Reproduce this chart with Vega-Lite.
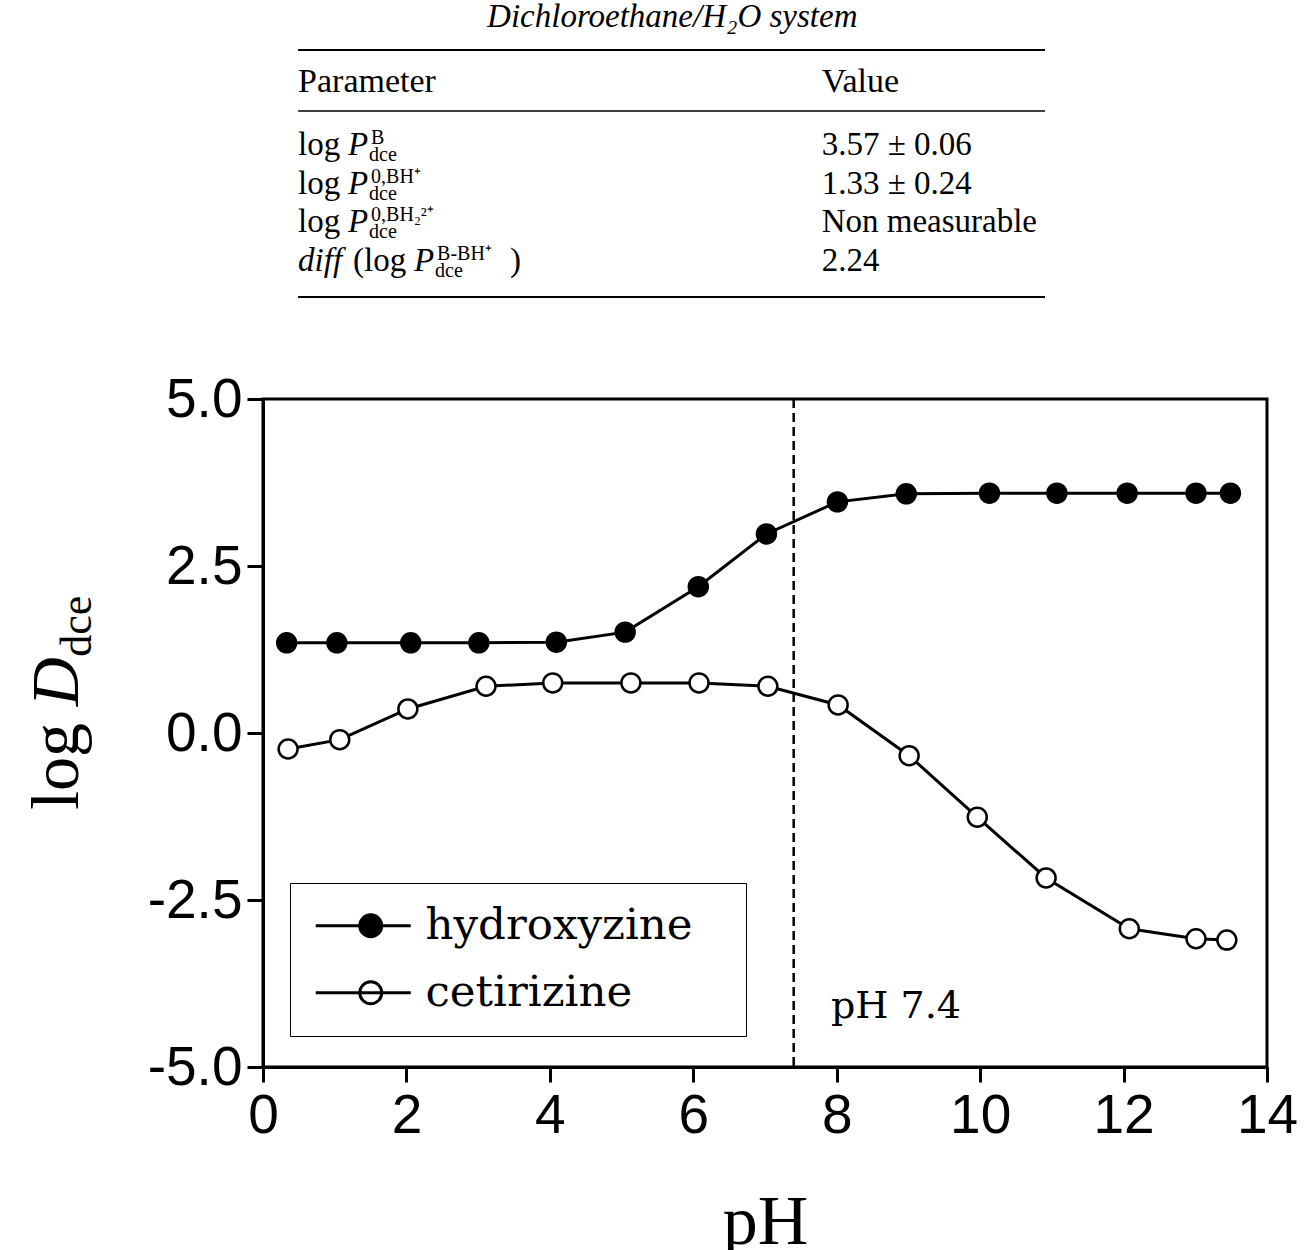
{
  "$schema": "https://vega.github.io/schema/vega-lite/v6.json",
  "background": "white",
  "padding": {"left": 22, "top": 0, "right": 5, "bottom": 0},
  "spacing": 70,
  "config": {"view": {"stroke": null}},
  "datasets": {
    "table": [
      {"row": 1, "lead": "log", "sym": "P", "sup": "B", "sub": "dce", "value": "3.57 ± 0.06"},
      {"row": 2, "lead": "log", "sym": "P", "sup": "0,BH⁺", "sub": "dce", "value": "1.33 ± 0.24"},
      {"row": 3, "lead": "log", "sym": "P", "sup": "0,BH₂²⁺", "sub": "dce", "value": "Non measurable"},
      {"row": 4, "lead": "diff", "lead2": "(log", "sym": "P", "sup": "B-BH⁺", "sub": "dce", "close": ")", "value": "2.24"}
    ],
    "series": [
      {"compound": "hydroxyzine", "pH": 0.33, "logD": 1.35},
      {"compound": "hydroxyzine", "pH": 1.03, "logD": 1.35},
      {"compound": "hydroxyzine", "pH": 2.06, "logD": 1.35},
      {"compound": "hydroxyzine", "pH": 3.01, "logD": 1.35},
      {"compound": "hydroxyzine", "pH": 4.09, "logD": 1.36},
      {"compound": "hydroxyzine", "pH": 5.05, "logD": 1.51},
      {"compound": "hydroxyzine", "pH": 6.07, "logD": 2.19},
      {"compound": "hydroxyzine", "pH": 7.02, "logD": 2.98},
      {"compound": "hydroxyzine", "pH": 8.01, "logD": 3.46},
      {"compound": "hydroxyzine", "pH": 8.97, "logD": 3.58},
      {"compound": "hydroxyzine", "pH": 10.13, "logD": 3.59},
      {"compound": "hydroxyzine", "pH": 11.07, "logD": 3.59},
      {"compound": "hydroxyzine", "pH": 12.05, "logD": 3.59},
      {"compound": "hydroxyzine", "pH": 13.01, "logD": 3.59},
      {"compound": "hydroxyzine", "pH": 13.49, "logD": 3.59},
      {"compound": "cetirizine", "pH": 0.35, "logD": -0.24},
      {"compound": "cetirizine", "pH": 1.07, "logD": -0.1},
      {"compound": "cetirizine", "pH": 2.02, "logD": 0.36},
      {"compound": "cetirizine", "pH": 3.11, "logD": 0.7},
      {"compound": "cetirizine", "pH": 4.04, "logD": 0.75},
      {"compound": "cetirizine", "pH": 5.13, "logD": 0.75},
      {"compound": "cetirizine", "pH": 6.08, "logD": 0.75},
      {"compound": "cetirizine", "pH": 7.04, "logD": 0.7},
      {"compound": "cetirizine", "pH": 8.02, "logD": 0.42},
      {"compound": "cetirizine", "pH": 9.01, "logD": -0.34},
      {"compound": "cetirizine", "pH": 9.96, "logD": -1.26},
      {"compound": "cetirizine", "pH": 10.92, "logD": -2.17},
      {"compound": "cetirizine", "pH": 12.08, "logD": -2.93},
      {"compound": "cetirizine", "pH": 13.01, "logD": -3.08},
      {"compound": "cetirizine", "pH": 13.44, "logD": -3.1}
    ]
  },
  "vconcat": [
    {
      "width": 782,
      "height": 300,
      "view": {"stroke": null},
      "layer": [
        {
          "data": {"values": [{"t": "Dichloroethane/H₂O system"}]},
          "mark": {"type": "text", "font": "Liberation Serif", "fontStyle": "italic", "fontSize": 33, "align": "center", "baseline": "alphabetic", "color": "black"},
          "encoding": {
            "x": {"datum": 0.501, "type": "quantitative", "scale": {"domain": [-0.047, 1]}, "axis": null},
            "y": {"datum": -2.31, "type": "quantitative", "scale": {"domain": [-3, 4.75], "reverse": true}, "axis": null},
            "text": {"field": "t"}
          }
        },
        {
          "data": {"values": [{"r": "top"}]},
          "mark": {"type": "rule", "strokeWidth": 2, "color": "black"},
          "encoding": {
            "x": {"datum": 0, "type": "quantitative", "scale": {"domain": [-0.047, 1]}, "axis": null},
            "x2": {"datum": 1},
            "y": {"datum": -1.71, "type": "quantitative", "scale": {"domain": [-3, 4.75], "reverse": true}, "axis": null}
          }
        },
        {
          "data": {"values": [{"r": "mid"}]},
          "mark": {"type": "rule", "strokeWidth": 1.5, "color": "black"},
          "encoding": {
            "x": {"datum": 0, "type": "quantitative", "scale": {"domain": [-0.047, 1]}, "axis": null},
            "x2": {"datum": 1},
            "y": {"datum": -0.13, "type": "quantitative", "scale": {"domain": [-3, 4.75], "reverse": true}, "axis": null}
          }
        },
        {
          "data": {"values": [{"r": "bottom"}]},
          "mark": {"type": "rule", "strokeWidth": 2, "color": "black"},
          "encoding": {
            "x": {"datum": 0, "type": "quantitative", "scale": {"domain": [-0.047, 1]}, "axis": null},
            "x2": {"datum": 1},
            "y": {"datum": 4.67, "type": "quantitative", "scale": {"domain": [-3, 4.75], "reverse": true}, "axis": null}
          }
        },
        {
          "data": {"values": [{"h": "Parameter"}]},
          "mark": {"type": "text", "font": "Liberation Serif", "fontSize": 34, "align": "left", "baseline": "alphabetic", "color": "black"},
          "encoding": {
            "x": {"datum": 0, "type": "quantitative", "scale": {"domain": [-0.047, 1]}, "axis": null},
            "y": {"datum": -0.63, "type": "quantitative", "scale": {"domain": [-3, 4.75], "reverse": true}, "axis": null},
            "text": {"field": "h"}
          }
        },
        {
          "data": {"values": [{"h": "Value"}]},
          "mark": {"type": "text", "font": "Liberation Serif", "fontSize": 34, "align": "left", "baseline": "alphabetic", "color": "black"},
          "encoding": {
            "x": {"datum": 0.701, "type": "quantitative", "scale": {"domain": [-0.047, 1]}, "axis": null},
            "y": {"datum": -0.63, "type": "quantitative", "scale": {"domain": [-3, 4.75], "reverse": true}, "axis": null},
            "text": {"field": "h"}
          }
        },
        {
          "data": {"name": "table"},
          "transform": [{"filter": "datum.row <= 3"}],
          "mark": {"type": "text", "font": "Liberation Serif", "fontSize": 33, "align": "left", "baseline": "alphabetic", "color": "black"},
          "encoding": {
            "x": {"datum": 0, "type": "quantitative", "scale": {"domain": [-0.047, 1]}, "axis": null},
            "y": {"field": "row", "type": "quantitative", "scale": {"domain": [-3, 4.75], "reverse": true}, "axis": null},
            "text": {"field": "lead"}
          }
        },
        {
          "data": {"name": "table"},
          "transform": [{"filter": "datum.row <= 3"}],
          "mark": {"type": "text", "font": "Liberation Serif", "fontStyle": "italic", "fontSize": 33, "align": "left", "baseline": "alphabetic", "color": "black", "dx": 50},
          "encoding": {
            "x": {"datum": 0, "type": "quantitative", "scale": {"domain": [-0.047, 1]}, "axis": null},
            "y": {"field": "row", "type": "quantitative", "scale": {"domain": [-3, 4.75], "reverse": true}, "axis": null},
            "text": {"field": "sym"}
          }
        },
        {
          "data": {"name": "table"},
          "transform": [{"filter": "datum.row <= 3"}],
          "mark": {"type": "text", "font": "Liberation Serif", "fontSize": 20, "align": "left", "baseline": "alphabetic", "color": "black", "dx": 73, "dy": -11},
          "encoding": {
            "x": {"datum": 0, "type": "quantitative", "scale": {"domain": [-0.047, 1]}, "axis": null},
            "y": {"field": "row", "type": "quantitative", "scale": {"domain": [-3, 4.75], "reverse": true}, "axis": null},
            "text": {"field": "sup"}
          }
        },
        {
          "data": {"name": "table"},
          "transform": [{"filter": "datum.row <= 3"}],
          "mark": {"type": "text", "font": "Liberation Serif", "fontSize": 20, "align": "left", "baseline": "alphabetic", "color": "black", "dx": 71, "dy": 6},
          "encoding": {
            "x": {"datum": 0, "type": "quantitative", "scale": {"domain": [-0.047, 1]}, "axis": null},
            "y": {"field": "row", "type": "quantitative", "scale": {"domain": [-3, 4.75], "reverse": true}, "axis": null},
            "text": {"field": "sub"}
          }
        },
        {
          "data": {"name": "table"},
          "transform": [{"filter": "datum.row == 4"}],
          "mark": {"type": "text", "font": "Liberation Serif", "fontStyle": "italic", "fontSize": 33, "align": "left", "baseline": "alphabetic", "color": "black"},
          "encoding": {
            "x": {"datum": 0, "type": "quantitative", "scale": {"domain": [-0.047, 1]}, "axis": null},
            "y": {"field": "row", "type": "quantitative", "scale": {"domain": [-3, 4.75], "reverse": true}, "axis": null},
            "text": {"field": "lead"}
          }
        },
        {
          "data": {"name": "table"},
          "transform": [{"filter": "datum.row == 4"}],
          "mark": {"type": "text", "font": "Liberation Serif", "fontSize": 33, "align": "left", "baseline": "alphabetic", "color": "black", "dx": 55},
          "encoding": {
            "x": {"datum": 0, "type": "quantitative", "scale": {"domain": [-0.047, 1]}, "axis": null},
            "y": {"field": "row", "type": "quantitative", "scale": {"domain": [-3, 4.75], "reverse": true}, "axis": null},
            "text": {"field": "lead2"}
          }
        },
        {
          "data": {"name": "table"},
          "transform": [{"filter": "datum.row == 4"}],
          "mark": {"type": "text", "font": "Liberation Serif", "fontStyle": "italic", "fontSize": 33, "align": "left", "baseline": "alphabetic", "color": "black", "dx": 116},
          "encoding": {
            "x": {"datum": 0, "type": "quantitative", "scale": {"domain": [-0.047, 1]}, "axis": null},
            "y": {"field": "row", "type": "quantitative", "scale": {"domain": [-3, 4.75], "reverse": true}, "axis": null},
            "text": {"field": "sym"}
          }
        },
        {
          "data": {"name": "table"},
          "transform": [{"filter": "datum.row == 4"}],
          "mark": {"type": "text", "font": "Liberation Serif", "fontSize": 20, "align": "left", "baseline": "alphabetic", "color": "black", "dx": 139, "dy": -11},
          "encoding": {
            "x": {"datum": 0, "type": "quantitative", "scale": {"domain": [-0.047, 1]}, "axis": null},
            "y": {"field": "row", "type": "quantitative", "scale": {"domain": [-3, 4.75], "reverse": true}, "axis": null},
            "text": {"field": "sup"}
          }
        },
        {
          "data": {"name": "table"},
          "transform": [{"filter": "datum.row == 4"}],
          "mark": {"type": "text", "font": "Liberation Serif", "fontSize": 20, "align": "left", "baseline": "alphabetic", "color": "black", "dx": 137, "dy": 6},
          "encoding": {
            "x": {"datum": 0, "type": "quantitative", "scale": {"domain": [-0.047, 1]}, "axis": null},
            "y": {"field": "row", "type": "quantitative", "scale": {"domain": [-3, 4.75], "reverse": true}, "axis": null},
            "text": {"field": "sub"}
          }
        },
        {
          "data": {"name": "table"},
          "transform": [{"filter": "datum.row == 4"}],
          "mark": {"type": "text", "font": "Liberation Serif", "fontSize": 33, "align": "left", "baseline": "alphabetic", "color": "black", "dx": 212},
          "encoding": {
            "x": {"datum": 0, "type": "quantitative", "scale": {"domain": [-0.047, 1]}, "axis": null},
            "y": {"field": "row", "type": "quantitative", "scale": {"domain": [-3, 4.75], "reverse": true}, "axis": null},
            "text": {"field": "close"}
          }
        },
        {
          "data": {"name": "table"},
          "mark": {"type": "text", "font": "Liberation Serif", "fontSize": 33, "align": "left", "baseline": "alphabetic", "color": "black"},
          "encoding": {
            "x": {"datum": 0.701, "type": "quantitative", "scale": {"domain": [-0.047, 1]}, "axis": null},
            "y": {"field": "row", "type": "quantitative", "scale": {"domain": [-3, 4.75], "reverse": true}, "axis": null},
            "text": {"field": "value"}
          }
        }
      ]
    },
    {
      "width": 1004,
      "height": 668,
      "view": {"stroke": "black", "strokeWidth": 3},
      "layer": [
        {
          "data": {"name": "series"},
          "mark": {"type": "line", "color": "black", "strokeWidth": 3},
          "encoding": {
            "x": {
              "field": "pH", "type": "quantitative",
              "scale": {"domain": [0, 14], "nice": false, "zero": false},
              "axis": {
                "values": [0, 2, 4, 6, 8, 10, 12, 14], "format": "d",
                "title": "pH", "titleFont": "Liberation Serif", "titleFontSize": 70, "titleFontWeight": "normal", "titleColor": "black", "titlePadding": 45,
                "labelFont": "Liberation Sans", "labelFontSize": 55, "labelColor": "black", "labelPadding": 7, "labelFlush": false, "labelOverlap": false,
                "tickSize": 15, "tickWidth": 3, "tickColor": "black", "domainColor": "black", "domainWidth": 3, "grid": false
              }
            },
            "y": {
              "field": "logD", "type": "quantitative",
              "scale": {"domain": [-5, 5], "nice": false, "zero": false},
              "axis": {
                "values": [-5, -2.5, 0, 2.5, 5], "format": ".1f", "labelExpr": "replace(datum.label, '−', '-')",
                "title": null,
                "labelFont": "Liberation Sans", "labelFontSize": 55, "labelColor": "black", "labelPadding": 5, "labelFlush": false, "labelOverlap": false,
                "tickSize": 16, "tickWidth": 3, "tickColor": "black", "domainColor": "black", "domainWidth": 3, "grid": false
              }
            },
            "detail": {"field": "compound", "type": "nominal"}
          }
        },
        {
          "data": {"name": "series"},
          "mark": {"type": "point", "shape": "circle", "filled": true, "stroke": "black", "strokeWidth": 2.5, "size": 360, "opacity": 1},
          "encoding": {
            "x": {"field": "pH", "type": "quantitative"},
            "y": {"field": "logD", "type": "quantitative"},
            "fill": {
              "field": "compound", "type": "nominal",
              "scale": {"domain": ["hydroxyzine", "cetirizine"], "range": ["black", "white"]},
              "legend": {
                "title": null, "orient": "none", "legendX": 27, "legendY": 883, "direction": "vertical",
                "fillColor": "white", "strokeColor": "black", "padding": 21,
                "symbolType": "M-0.85,0H3.9M2.45,0A0.55,0.55 0 1,1 1.35,0A0.55,0.55 0 1,1 2.45,0",
                "symbolSize": 1600, "symbolStrokeColor": "black", "symbolStrokeWidth": 3, "symbolOpacity": 1,
                "labelFont": "DejaVu Serif", "labelFontSize": 43.5, "labelColor": "black", "labelOffset": 71, "labelLimit": 0, "rowPadding": 22,
                "labelExpr": "datum.label + '\u2800'"
              }
            }
          }
        },
        {
          "data": {"values": [{"label": "pH 7.4"}]},
          "mark": {"type": "rule", "color": "black", "strokeWidth": 2.5, "strokeDash": [9, 5]},
          "encoding": {"x": {"datum": 7.4, "type": "quantitative"}}
        },
        {
          "data": {"values": [{"label": "pH 7.4"}]},
          "mark": {"type": "text", "font": "DejaVu Serif", "fontSize": 38, "align": "left", "baseline": "alphabetic", "color": "black"},
          "encoding": {
            "x": {"datum": 7.92, "type": "quantitative"},
            "y": {"datum": -4.27, "type": "quantitative"},
            "text": {"field": "label"}
          }
        },
        {
          "data": {"values": [{"t": "log"}]},
          "mark": {"type": "text", "font": "Liberation Serif", "fontSize": 68, "angle": 270, "align": "left", "baseline": "alphabetic", "color": "black"},
          "encoding": {
            "x": {"datum": -2.58, "type": "quantitative"},
            "y": {"datum": -1.15, "type": "quantitative"},
            "text": {"field": "t"}
          }
        },
        {
          "data": {"values": [{"t": "D"}]},
          "mark": {"type": "text", "font": "Liberation Serif", "fontStyle": "italic", "fontSize": 68, "angle": 270, "align": "left", "baseline": "alphabetic", "color": "black"},
          "encoding": {
            "x": {"datum": -2.58, "type": "quantitative"},
            "y": {"datum": 0.4, "type": "quantitative"},
            "text": {"field": "t"}
          }
        },
        {
          "data": {"values": [{"t": "dce"}]},
          "mark": {"type": "text", "font": "Liberation Serif", "fontSize": 44, "angle": 270, "align": "left", "baseline": "alphabetic", "color": "black"},
          "encoding": {
            "x": {"datum": -2.4, "type": "quantitative"},
            "y": {"datum": 1.14, "type": "quantitative"},
            "text": {"field": "t"}
          }
        }
      ]
    }
  ]
}
